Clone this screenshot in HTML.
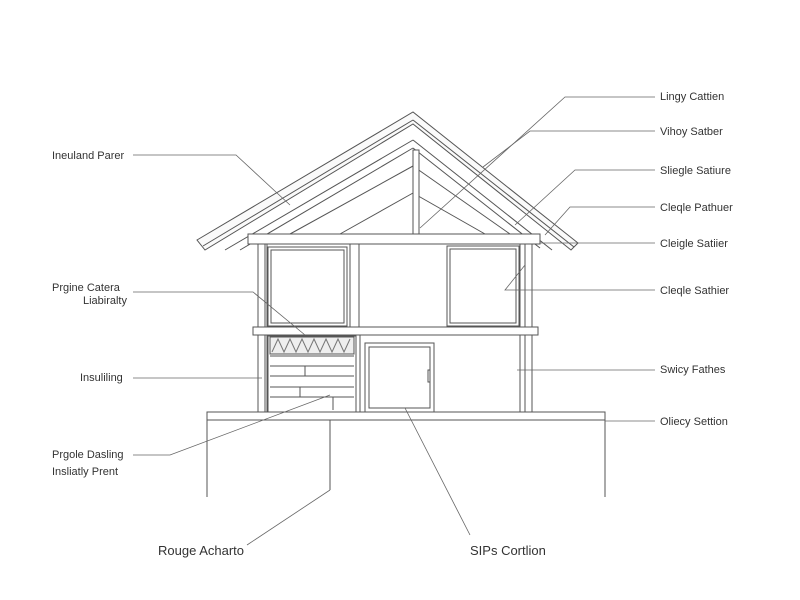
<!DOCTYPE html>
<html><head><style>
html,body{margin:0;padding:0;background:#fff;}
svg{display:block;}
text{font-family:"Liberation Sans",sans-serif;font-size:11px;fill:#333;}
</style></head><body>
<svg width="800" height="600" viewBox="0 0 800 600">
<g stroke="#555" stroke-width="1" fill="none">
<!-- roof outer -->
<polygon points="197,240 413,112 578,243 571,250 413,124 205,250" fill="#fafafa"/>
<line x1="203" y1="246" x2="413" y2="120"/>
<line x1="413" y1="120" x2="574" y2="247"/>
<line x1="225" y1="250" x2="413" y2="140"/>
<line x1="413" y1="140" x2="552" y2="250"/>
<line x1="240" y1="250" x2="413" y2="148"/>
<line x1="413" y1="148" x2="540" y2="248"/>
<line x1="290" y1="234" x2="413" y2="166"/>
<line x1="413" y1="166" x2="510" y2="234"/>
<line x1="340" y1="234" x2="413" y2="193"/>
<line x1="413" y1="193" x2="485" y2="234"/>
<rect x="413" y="150" width="6" height="84" fill="#fff"/>
<!-- top plate -->
<rect x="248" y="234" width="292" height="10" fill="#fff"/>
<!-- posts -->
<rect x="258" y="244" width="7" height="168" fill="#fff"/>
<rect x="525" y="244" width="7" height="168" fill="#fff"/>
<line x1="267" y1="244" x2="267" y2="412"/>
<line x1="520" y1="244" x2="520" y2="412"/>
<rect x="350" y="244" width="9" height="83" fill="#fff"/>
<!-- upper windows -->
<rect x="268" y="247" width="79" height="79"/>
<rect x="271" y="250" width="73" height="73"/>
<rect x="447" y="246" width="72" height="80"/>
<rect x="450" y="249" width="66" height="74"/>
<!-- mid beam -->
<rect x="253" y="327" width="285" height="8" fill="#fff"/>
<!-- insulation -->
<rect x="268" y="336" width="88" height="76"/>
<rect x="270" y="337" width="84" height="17" fill="#eee"/>
<path d="M272,352 l6,-13 l6,13 l6,-13 l6,13 l6,-13 l6,13 l6,-13 l6,13 l6,-13 l6,13 l6,-13 l6,13 l6,-13" stroke="#777"/>
<line x1="270" y1="356" x2="354" y2="356"/>
<line x1="270" y1="366" x2="354" y2="366"/>
<line x1="270" y1="376" x2="354" y2="376"/>
<line x1="270" y1="387" x2="354" y2="387"/>
<line x1="270" y1="397" x2="354" y2="397"/>
<line x1="305" y1="366" x2="305" y2="376"/>
<line x1="300" y1="387" x2="300" y2="397"/>
<line x1="333" y1="397" x2="333" y2="410"/>
<line x1="360" y1="335" x2="360" y2="412"/>
<!-- door -->
<rect x="365" y="343" width="69" height="69"/>
<rect x="369" y="347" width="61" height="61"/>
<rect x="428" y="370" width="2" height="12"/>
<!-- base slab -->
<rect x="207" y="412" width="398" height="8" fill="#fff"/>
<line x1="207" y1="420" x2="207" y2="497"/>
<line x1="605" y1="420" x2="605" y2="497"/>
<line x1="330" y1="420" x2="330" y2="490"/>
</g>
<g stroke="#666" stroke-width="0.8" fill="none">
<polyline points="133,155 236,155 290,205"/>
<polyline points="133,292 253,292 305,335"/>
<line x1="133" y1="378" x2="262" y2="378"/>
<polyline points="133,455 170,455 330,395"/>
<polyline points="655,97 565,97 420,228"/>
<polyline points="655,131 530,131 483,167"/>
<polyline points="655,170 575,170 515,225"/>
<polyline points="655,207 570,207 545,235"/>
<line x1="540" y1="243" x2="655" y2="243"/>
<polyline points="655,290 505,290 525,265"/>
<line x1="517" y1="370" x2="655" y2="370"/>
<line x1="605" y1="421" x2="655" y2="421"/>
<line x1="247" y1="545" x2="330" y2="490"/>
<line x1="470" y1="535" x2="405" y2="408"/>
</g>
<text x="52" y="159">Ineuland Parer</text>
<text x="52" y="291">Prgine Catera</text>
<text x="127" y="304" text-anchor="end">Liabiralty</text>
<text x="80" y="381">Insuliling</text>
<text x="52" y="458">Prgole Dasling</text>
<text x="52" y="475">Insliatly Prent</text>
<text x="660" y="100">Lingy Cattien</text>
<text x="660" y="135">Vihoy Satber</text>
<text x="660" y="174">Sliegle Satiure</text>
<text x="660" y="211">Cleqle Pathuer</text>
<text x="660" y="247">Cleigle Satiier</text>
<text x="660" y="294">Cleqle Sathier</text>
<text x="660" y="373">Swicy Fathes</text>
<text x="660" y="425">Oliecy Settion</text>
<text x="158" y="555" style="font-size:13px">Rouge Acharto</text>
<text x="470" y="555" style="font-size:13px">SIPs Cortlion</text>
</svg>
</body></html>
